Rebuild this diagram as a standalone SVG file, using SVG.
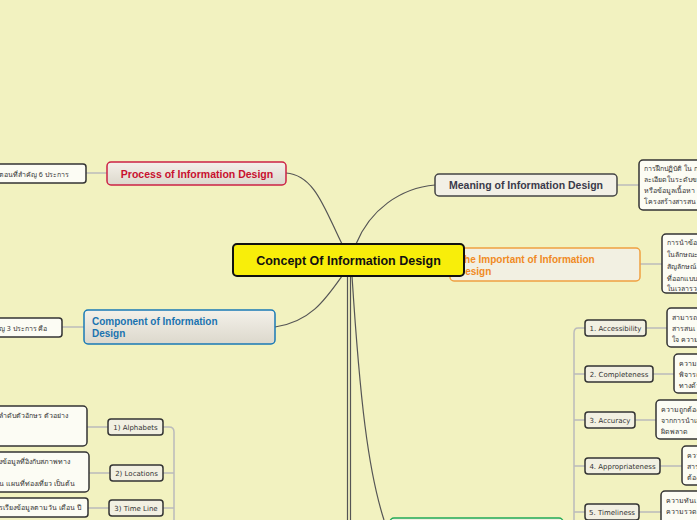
<svg xmlns="http://www.w3.org/2000/svg" width="697" height="520" viewBox="0 0 697 520">
<defs>
<linearGradient id="g" x1="0" y1="0" x2="0" y2="1"><stop offset="0" stop-color="#f4f1ea"/><stop offset="1" stop-color="#dcd8cc"/></linearGradient>
<style>
.t{font-family:"Liberation Sans","Noto Sans",sans-serif}
.th{font-family:"Noto Sans","DejaVu Sans",sans-serif;font-size:7px;fill:#333}
.leaf{fill:#fcfcf4;stroke:#333;stroke-width:1.5}
.sub{fill:#f2f0e2;stroke:#333;stroke-width:1.5}
.st{font-family:"DejaVu Sans",sans-serif;font-size:7px;fill:#333}
.c{fill:none;stroke:#555;stroke-width:1.2}
.b{fill:none;stroke:#bbb;stroke-width:1.5}
</style>
</defs>
<rect width="697" height="520" fill="#f2f2c0"/>
<g id="connectors">
<path class="c" d="M286,173 C315,175 325,210 342,244"/>
<path class="c" d="M275,327 C310,322 325,300 342,276"/>
<path class="c" d="M435,185 C400,188 370,210 356,244"/>
<path class="c" d="M464,264 L450,264"/>
<path class="c" d="M352,276 C360,400 368,470 384,520"/>
<path class="c" stroke-width="1" d="M347.5,276 L347.5,520 M350.5,276 L350.5,520"/>
<path class="b" d="M86,173 L107,173"/>
<path class="b" d="M62,327 L84,327"/>
<path class="b" d="M617,185 L639,185"/>
<path class="b" d="M640,264 L662,264"/>
<path class="b" d="M585,328 L578,328 Q574,328 574,333 L574,520"/>
<path class="b" d="M574,374 L585,374 M574,420 L585,420 M574,466 L585,466 M574,512 L585,512"/>
<path class="b" d="M646,328 L667,328 M653,374 L674,374 M635,420 L656,420 M660,466 L682,466 M639,512 L661,512"/>
<path class="b" d="M163,427 L169,427 Q174,427 174,432 L174,520"/>
<path class="b" d="M163,473 L174,473 M163,508 L174,508"/>
<path class="b" d="M87,427 L108,427 M89,473 L110,473 M88,508 L109,508"/>
</g>
<g id="process"><rect x="107" y="162" width="179" height="23" rx="4" fill="url(#g)" stroke="#cc2244" stroke-width="1.5"/><text x="197" y="177.5" class="t" font-size="10.5" font-weight="bold" fill="#c8102e" text-anchor="middle">Process of Information Design</text></g>
<g id="process-leaf"><rect x="-10" y="164" width="96" height="19" rx="3" class="leaf"/><text x="-1" y="176.5" class="th" font-size="8">ตอนที่สำคัญ 6 ประการ</text></g>
<g id="component"><rect x="84" y="310" width="191" height="34" rx="4" fill="url(#g)" stroke="#1a7ab5" stroke-width="1.5"/><text x="92" y="325" class="t" font-size="10" font-weight="bold" fill="#1a73b0">Component of Information</text><text x="92" y="337" class="t" font-size="10" font-weight="bold" fill="#1a73b0">Design</text></g>
<g id="component-leaf"><rect x="-10" y="318" width="72" height="19" rx="3" class="leaf"/><text x="-1" y="330.5" class="th" font-size="8">ญ 3 ประการ คือ</text></g>
<g id="meaning"><rect x="435" y="174" width="182" height="22" rx="4" fill="#f2f0e6" stroke="#444" stroke-width="1.5"/><text x="526" y="189" class="t" font-size="10.5" font-weight="bold" fill="#3a3a4a" text-anchor="middle">Meaning of Information Design</text></g>
<g id="meaning-leaf"><rect x="639" y="160" width="70" height="50" rx="4" class="leaf"/><text class="th"><tspan x="644" y="171">การฝึกปฏิบัติ ใน ก</tspan><tspan x="644" y="182">ละเอียดในระดับข</tspan><tspan x="644" y="193">หรือข้อมูลเนื้อหา</tspan><tspan x="644" y="204">โครงสร้างสารสน</tspan></text></g>
<g id="important"><rect x="450" y="248" width="190" height="33" rx="4" fill="#f2f0e2" stroke="#f0a040" stroke-width="1.5"/><text x="458" y="263" class="t" font-size="10" font-weight="bold" fill="#f08a24">The Important of Information</text><text x="458" y="275" class="t" font-size="10" font-weight="bold" fill="#f08a24">Design</text></g>
<g id="important-leaf"><rect x="662" y="234" width="50" height="59" rx="4" class="leaf"/><text class="th"><tspan x="667" y="245">การนำข้อ</tspan><tspan x="667" y="257">ในลักษณะ</tspan><tspan x="667" y="269">สัญลักษณ์</tspan><tspan x="667" y="281">ที่ออกแบบ</tspan><tspan x="667" y="291">ในเวลารว</tspan></text></g>
<g id="center"><rect x="233" y="244" width="231" height="32" rx="4" fill="#f8ee0a" stroke="#111" stroke-width="2"/><text x="348.5" y="265" class="t" font-size="12.5" font-weight="bold" fill="#111" text-anchor="middle">Concept Of Information Design</text></g>
<g id="green"><rect x="390" y="518" width="173" height="20" rx="4" fill="#f2f0e2" stroke="#22aa55" stroke-width="1.5"/></g>
<g id="acc"><rect x="585" y="320" width="61" height="16" rx="3" class="sub"/><text x="615.5" y="331" class="st" text-anchor="middle">1. Accessibility</text><rect x="667" y="308" width="40" height="39" rx="4" class="leaf"/><text class="th"><tspan x="672" y="320">สามารถ</tspan><tspan x="672" y="331">สารสนเ</tspan><tspan x="672" y="342">ใจ ความ</tspan></text></g>
<g id="comp"><rect x="585" y="366" width="68" height="16" rx="3" class="sub"/><text x="619" y="377" class="st" text-anchor="middle">2. Completeness</text><rect x="674" y="354" width="40" height="39" rx="4" class="leaf"/><text class="th"><tspan x="679" y="366">ความ</tspan><tspan x="679" y="377">พิจารณ</tspan><tspan x="679" y="388">ทางด้า</tspan></text></g>
<g id="accu"><rect x="585" y="412" width="50" height="16" rx="3" class="sub"/><text x="610" y="423" class="st" text-anchor="middle">3. Accuracy</text><rect x="656" y="400" width="60" height="39" rx="4" class="leaf"/><text class="th"><tspan x="661" y="412">ความถูกต้อง</tspan><tspan x="661" y="423">จากการนำเส</tspan><tspan x="661" y="434">ผิดพลาด</tspan></text></g>
<g id="appr"><rect x="585" y="458" width="75" height="16" rx="3" class="sub"/><text x="622.5" y="469" class="st" text-anchor="middle">4. Appropriateness</text><rect x="682" y="446" width="40" height="39" rx="4" class="leaf"/><text class="th"><tspan x="687" y="458">ควา</tspan><tspan x="687" y="469">สาร</tspan><tspan x="687" y="480">ต้อง</tspan></text></g>
<g id="time"><rect x="585" y="504" width="54" height="16" rx="3" class="sub"/><text x="612" y="515" class="st" text-anchor="middle">5. Timeliness</text><rect x="661" y="491" width="50" height="39" rx="4" class="leaf"/><text class="th"><tspan x="666" y="503">ความทันเ</tspan><tspan x="666" y="514">ความรวด</tspan></text></g>
<g id="alpha"><rect x="108" y="419" width="55" height="16" rx="3" class="sub"/><text x="135.5" y="430" class="st" text-anchor="middle">1) Alphabets</text><rect x="-10" y="406" width="97" height="40" rx="4" class="leaf"/><text x="-1" y="418" class="th">ลำดับตัวอักษร ตัวอย่าง</text></g>
<g id="loc"><rect x="110" y="465" width="53" height="16" rx="3" class="sub"/><text x="136.5" y="476" class="st" text-anchor="middle">2) Locations</text><rect x="-10" y="452" width="99" height="40" rx="4" class="leaf"/><text class="th"><tspan x="-1" y="464">งข้อมูลที่อิงกับสภาพทาง</tspan><tspan x="-1" y="486">น แผนที่ท่องเที่ยว เป็นต้น</tspan></text></g>
<g id="tl"><rect x="109" y="500" width="54" height="16" rx="3" class="sub"/><text x="136" y="511" class="st" text-anchor="middle">3) Time Line</text><rect x="-10" y="498" width="98" height="19" rx="3" class="leaf"/><text x="-1" y="510" class="th">รเรียงข้อมูลตามวัน เดือน ปี</text></g>
</svg>
